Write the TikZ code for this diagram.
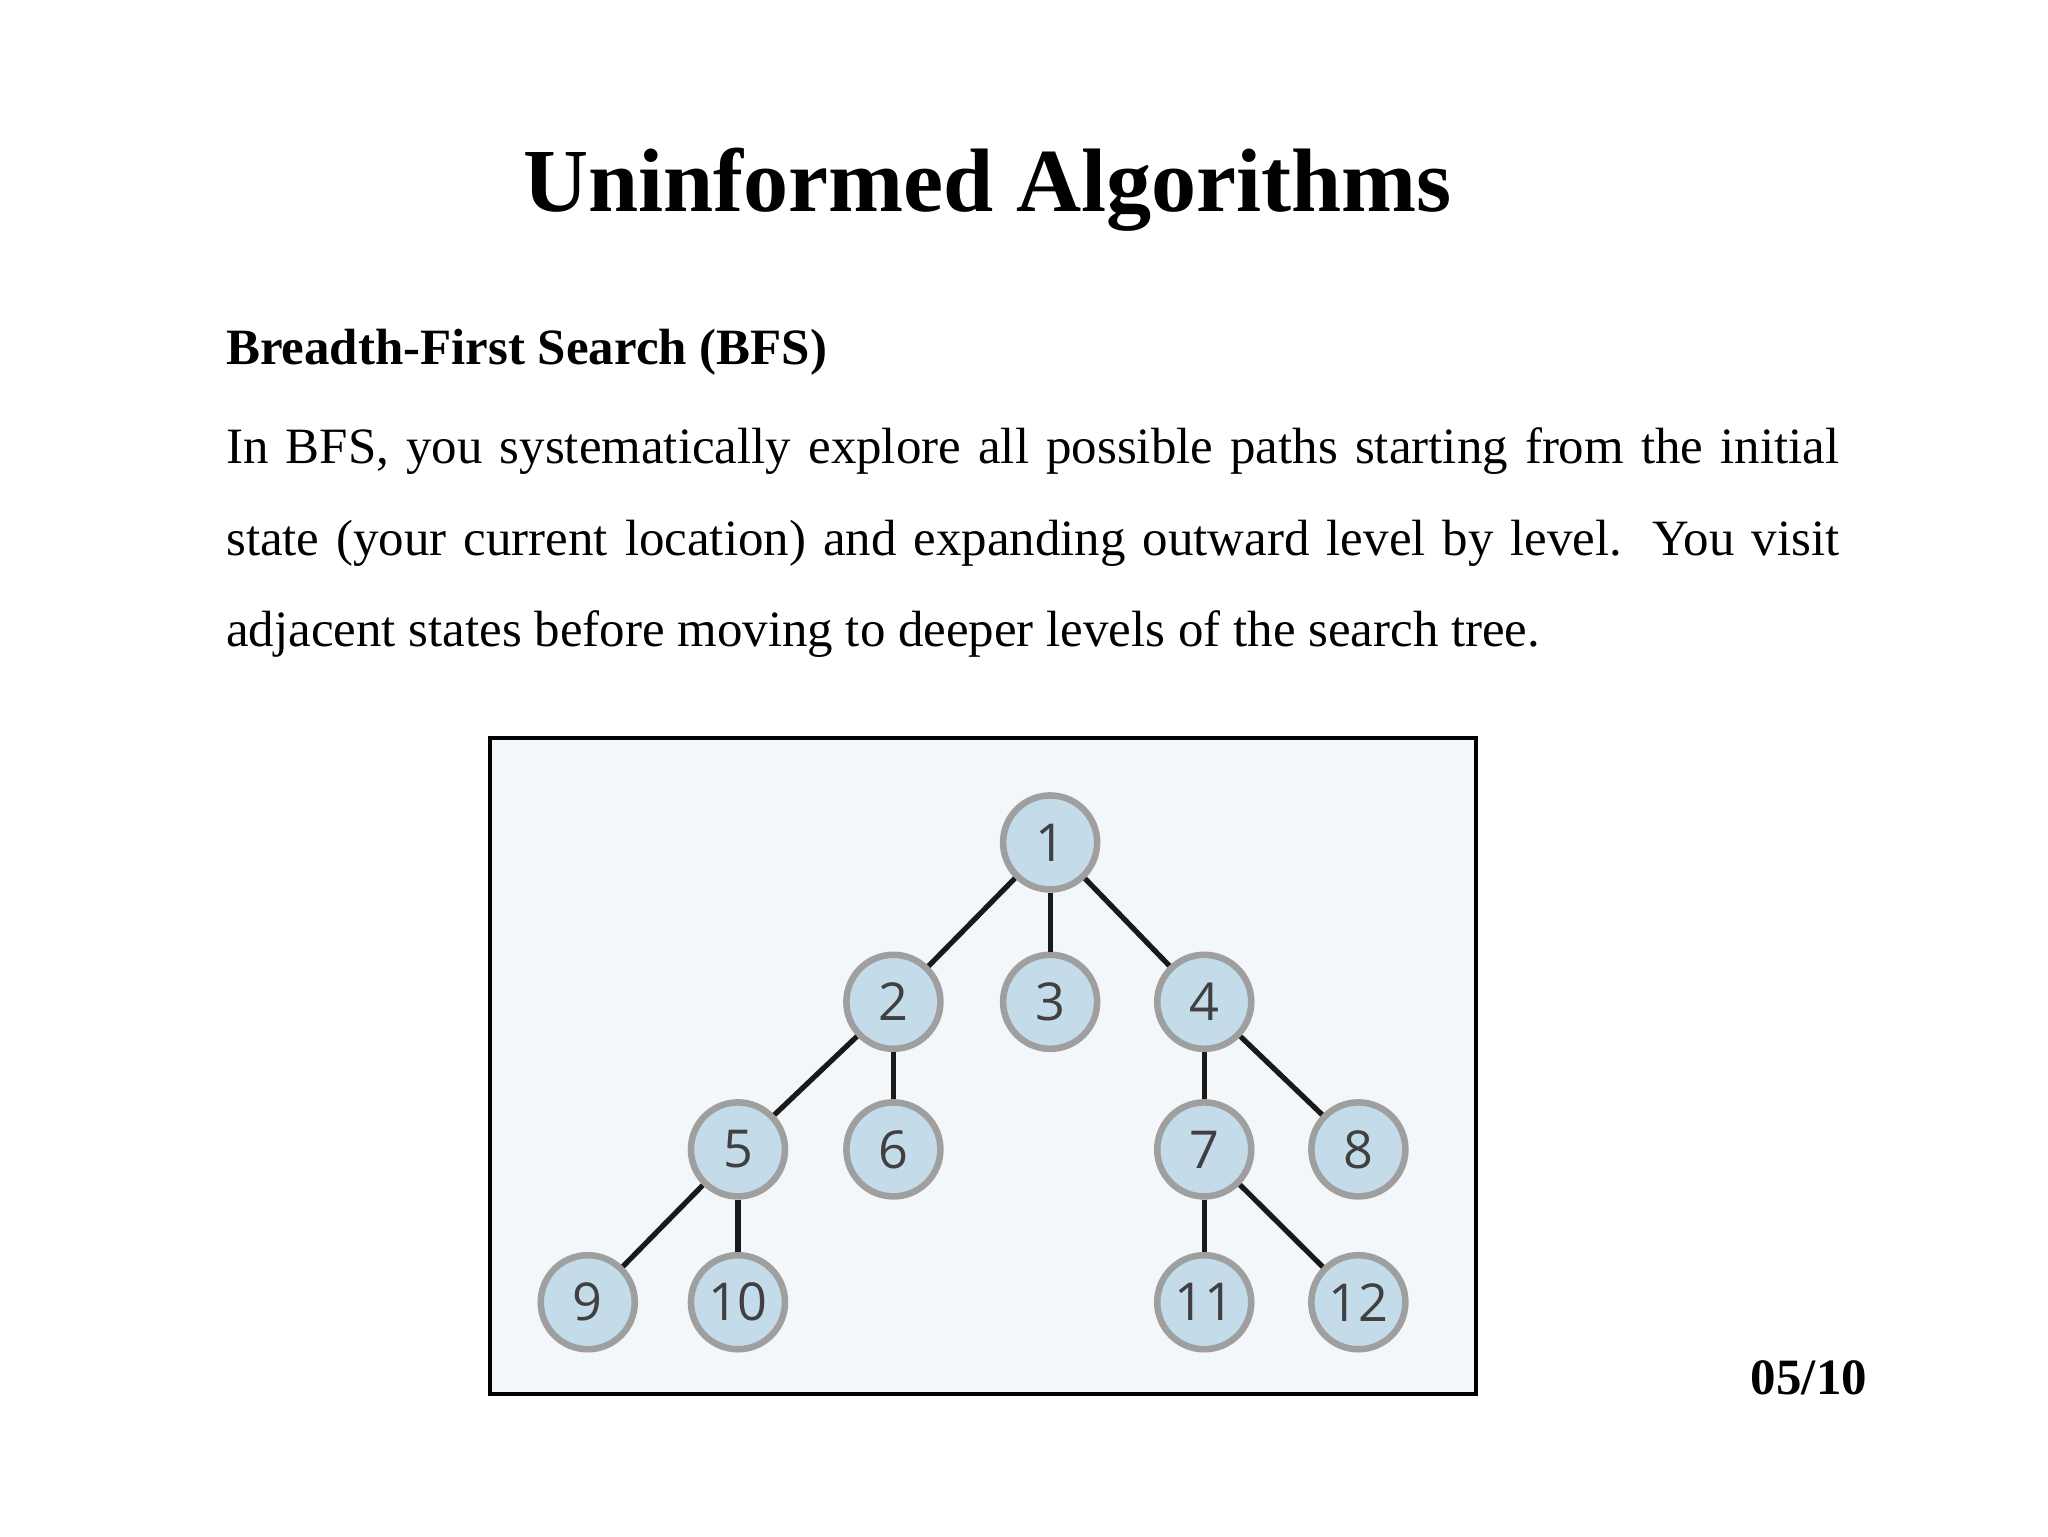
\documentclass[tikz,border=0pt]{standalone}
\usepackage{fontspec}
\setmainfont{Liberation Serif}
\newfontfamily\nodefont{Open Sans}
\begin{document}
\begin{tikzpicture}[x=1pt,y=-1pt,
  tn/.style={circle,minimum size=72pt,inner sep=0pt,draw=gray!75,line width=5pt,font=\nodefont\fontsize{40}{42}\selectfont,text=black!75},
  ed/.style={line width=4pt,black!90}]
\useasboundingbox (0,0) rectangle (1568,1176);
\definecolor{nf}{HTML}{C4DBEA}
\definecolor{bg}{HTML}{F4F7F9}
\node (title) at (756,145) {\fontsize{69}{75}\selectfont\bfseries Uninformed Algorithms};
\node[anchor=west,inner sep=0pt] (sub) at (173,270) {\fontsize{39}{42}\selectfont\bfseries Breadth-First Search (BFS)};
\node[anchor=base west,text width=1235pt,align=justify,inner sep=0pt,font=\fontsize{39}{70}\selectfont] (para) at (173,355) {In BFS, you systematically explore all possible paths starting from the initial\linebreak state (your current location) and expanding outward level by level. You visit\linebreak adjacent states before moving to deeper levels of the search tree.};
\draw[fill=bg,line width=3pt] (375,565) rectangle (1130,1067);
\foreach \n/\x/\y in {1/804/645,2/684/767,3/804/767,4/922/767,5/565/880,6/684/880,7/922/880,8/1040/880,9/450/997,10/565/997,11/922/997,12/1040/997}
  \node[tn,fill=nf] (n\n) at (\x,\y) {\n};
\foreach \a/\b in {1/2,1/3,1/4,2/5,2/6,4/7,4/8,5/9,5/10,7/11,7/12}
  \draw[ed] (n\a) -- (n\b);
\node (pg) at (1385,1055) {\fontsize{39}{42}\selectfont\bfseries 05/10};
\end{tikzpicture}
\end{document}
